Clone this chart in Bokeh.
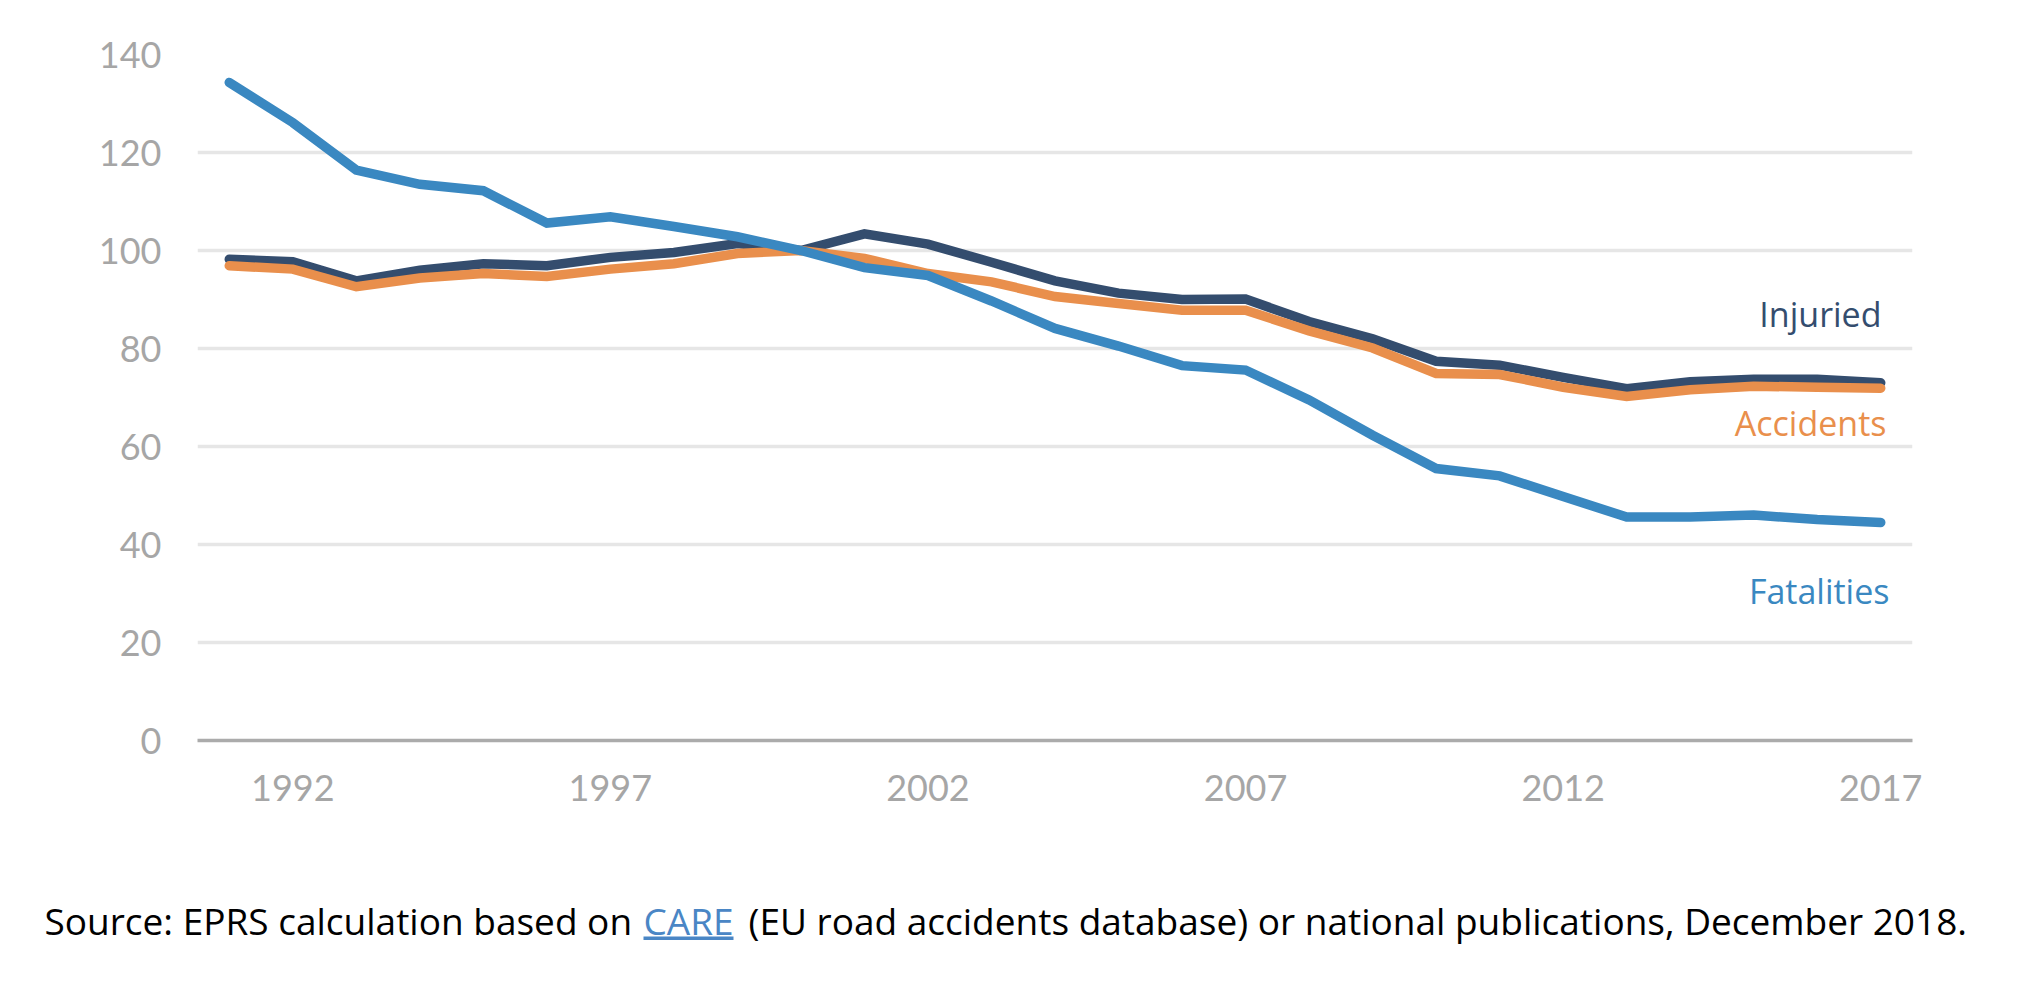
from bokeh.plotting import figure
from bokeh.layouts import column, row
from bokeh.models import Range1d, FixedTicker, Label, BoxAnnotation
from bokeh.embed import file_html
from bokeh.resources import INLINE

# ---- data (index, 2000 = 100) ----
years = list(range(1991, 2018))
fatalities = [134.3, 126.1, 116.4, 113.5, 112.2, 105.6, 106.9, 104.9, 102.8, 100.0,
              96.5, 94.9, 89.7, 84.1, 80.5, 76.5, 75.6, 69.5, 62.3, 55.5,
              54.0, 49.8, 45.6, 45.6, 46.0, 45.1, 44.5]
injured = [98.2, 97.7, 93.8, 96.0, 97.3, 96.9, 98.6, 99.6, 101.4, 100.0,
           103.4, 101.3, 97.6, 93.8, 91.3, 90.0, 90.1, 85.5, 82.0, 77.4,
           76.6, 74.1, 71.8, 73.2, 73.7, 73.7, 73.0]
accidents = [96.9, 96.2, 92.6, 94.4, 95.3, 94.7, 96.2, 97.3, 99.4, 100.0,
             98.4, 95.3, 93.6, 90.6, 89.2, 87.8, 87.8, 83.6, 80.1, 74.9,
             74.7, 72.1, 70.2, 71.6, 72.3, 72.1, 71.9]
x_ticks = [1992, 1997, 2002, 2007, 2012, 2017]
y_ticks = [0, 20, 40, 60, 80, 100, 120, 140]
series_names = ["Injuried", "Accidents", "Fatalities"]
source_parts = ["Source: EPRS calculation based on ", "CARE",
                "(EU road accidents database) or national publications, December 2018."]

# ---- layout ----
W, H = 2028, 990
H1 = 850                      # chart part
H2 = H - H1                   # source-note strip
FL, FR, FT, FB = 197, 1912, 54, 740
X0, X1 = 1990.5, 2017.5
Y0, Y1 = 0, 140


def px_x(px):
    return X0 + (px - FL) * (X1 - X0) / (FR - FL)


def px_y(py):
    return Y0 + (FB - py) * (Y1 - Y0) / (FB - FT)


C_FAT = "#3A88C1"
C_INJ = "#344D6E"
C_ACC = "#E98F4C"
C_LINK = "#4A86C5"
GRAY = "#A6A6A6"

p = figure(width=W, height=H1, output_backend="svg", toolbar_location=None,
           x_range=Range1d(X0, X1), y_range=Range1d(Y0, Y1),
           min_border_left=FL, min_border_right=W - FR,
           min_border_top=FT, min_border_bottom=H1 - FB)
p.outline_line_color = None
p.background_fill_color = "white"
p.border_fill_color = "white"

p.xgrid.grid_line_color = None
p.ygrid.grid_line_color = "#E6E6E6"
p.ygrid.grid_line_width = 3.7
p.ygrid.ticker = FixedTicker(ticks=y_ticks)

p.xaxis.ticker = FixedTicker(ticks=x_ticks)
p.yaxis.ticker = FixedTicker(ticks=y_ticks)
for ax in (p.xaxis[0], p.yaxis[0]):
    ax.major_tick_line_color = None
    ax.minor_tick_line_color = None
    ax.major_label_text_font = "Lato"
    ax.major_label_text_font_size = "36px"
    ax.major_label_text_color = GRAY
p.yaxis.axis_line_color = None
p.yaxis.major_label_standoff = 30
p.xaxis.axis_line_color = "#ABABAB"
p.xaxis.axis_line_width = 3.5
p.xaxis.major_label_standoff = 28

for ys, col in ((injured, C_INJ), (accidents, C_ACC), (fatalities, C_FAT)):
    p.line(years, ys, line_color=col, line_width=9.5, line_cap="round", line_join="miter")

# series labels (right edge px, centre px)
for name, col, rx, py in zip(series_names, (C_INJ, C_ACC, C_FAT),
                             (1881, 1886, 1889), (313, 422, 590)):
    p.add_layout(Label(x=px_x(rx), y=px_y(py), text=name, text_align="right",
                       text_baseline="middle", text_font="Open Sans",
                       text_font_size="34px", text_color=col))

# source strip: a frameless plot whose data units are pixels (y measured up from page bottom)
s = figure(width=W, height=H2, output_backend="svg", toolbar_location=None,
           x_range=Range1d(0, W), y_range=Range1d(0, H2),
           min_border=0, min_border_left=0, min_border_right=0,
           min_border_top=0, min_border_bottom=0)
s.axis.visible = False
s.grid.visible = False
s.outline_line_color = None
s.background_fill_color = "white"
s.border_fill_color = "white"
for txt, col, px in zip(source_parts, ("black", C_LINK, "black"), (44, 643, 748)):
    s.add_layout(Label(x=px, y=H - 920, text=txt, text_align="left",
                       text_baseline="alphabetic", text_font="Open Sans",
                       text_font_size="37px", text_color=col))
s.add_layout(BoxAnnotation(left=643, right=733, top=H - 936, bottom=H - 939.5,
                           fill_color=C_LINK, fill_alpha=1, line_color=None))

layout = column(p, row(s, spacing=0), spacing=0)
open("out.html", "w").write(file_html(layout, INLINE))
